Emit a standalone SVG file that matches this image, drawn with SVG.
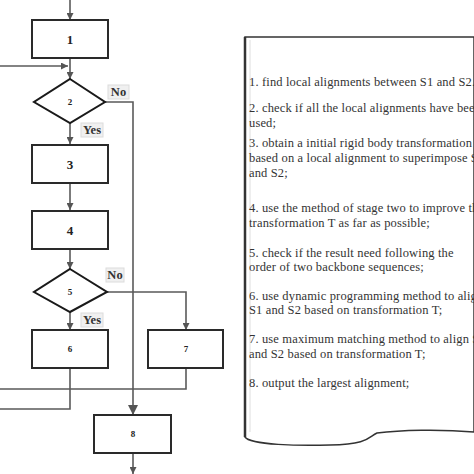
<svg xmlns="http://www.w3.org/2000/svg" width="474" height="474" viewBox="0 0 474 474">
<style>
.box{fill:#fff;stroke:#2a2a2a;stroke-width:2}
.dia{fill:#fff;stroke:#1a1a1a;stroke-width:2}
.c{fill:none;stroke:#5a5a5a;stroke-width:1.6}
.lbl{font-family:"Liberation Serif",serif;font-weight:bold;fill:#222;text-anchor:middle}
.big{font-size:13px}
.small{font-size:9px}
.tag{fill:#f0f0f0;stroke:#dcdcdc;stroke-width:1}
.tagt{font-family:"Liberation Serif",serif;font-weight:bold;font-size:12.5px;fill:#333;text-anchor:middle}
.doc{font-family:"Liberation Serif",serif;font-size:12.5px;fill:#333;letter-spacing:0.15px}
</style>
<defs>
<marker id="ahb" viewBox="0 0 10 10" refX="10" refY="5" markerWidth="10" markerHeight="10" orient="auto" markerUnits="userSpaceOnUse">
<path d="M0,0 L10,5 L0,10 z" fill="#555"/>
</marker>
<marker id="ah7" viewBox="0 0 10 10" refX="10" refY="5" markerWidth="7" markerHeight="7" orient="auto" markerUnits="userSpaceOnUse">
<path d="M0,0 L10,5 L0,10 z" fill="#555"/>
</marker>
</defs>
<rect width="474" height="474" fill="#fff"/>

<g id="connectors">
<path class="c" d="M70,0 V20" marker-end="url(#ah7)"/>
<path class="c" d="M70,58 V79" marker-end="url(#ah7)"/>
<path class="c" d="M0,66 H68" marker-end="url(#ah7)"/>
<path class="c" d="M70,123 V144" marker-end="url(#ah7)"/>
<path class="c" d="M70,183 V210" marker-end="url(#ah7)"/>
<path class="c" d="M70,249 V269" marker-end="url(#ah7)"/>
<path class="c" d="M70,312 V330" marker-end="url(#ah7)"/>
<path class="c" d="M105,102 H133 V415" marker-end="url(#ahb)"/>
<path class="c" d="M107,292 H186 V330" marker-end="url(#ah7)"/>
<path class="c" d="M186,368 V389 H0"/>
<path class="c" d="M70,368 V409 H0"/>
<path class="c" d="M133,453 V474" marker-end="url(#ah7)"/>
</g>

<g id="n1"><rect class="box" x="32" y="20" width="76" height="38"/><text class="lbl big" x="70" y="44">1</text></g>
<g id="n2"><polygon class="dia" points="70,79 105,102 70,123 34,102"/><text class="lbl small" x="70" y="105">2</text></g>
<g id="n3"><rect class="box" x="32" y="145" width="76" height="38"/><text class="lbl big" x="70" y="169">3</text></g>
<g id="n4"><rect class="box" x="32" y="211" width="76" height="38"/><text class="lbl big" x="70" y="235">4</text></g>
<g id="n5"><polygon class="dia" points="70,269 107,292 70,312 34,292"/><text class="lbl small" x="70" y="295">5</text></g>
<g id="n6"><rect class="box" x="32" y="330" width="76" height="38"/><text class="lbl small" x="70" y="352">6</text></g>
<g id="n7"><rect class="box" x="148" y="330" width="75" height="38"/><text class="lbl small" x="186" y="352">7</text></g>
<g id="n8"><rect class="box" x="94" y="415" width="77" height="38"/><text class="lbl small" x="133" y="437">8</text></g>

<g id="labels">
<rect class="tag" x="108" y="85" width="21" height="14"/><text class="tagt" x="118.5" y="96">No</text>
<rect class="tag" x="81" y="123" width="22" height="14"/><text class="tagt" x="92" y="134">Yes</text>
<rect class="tag" x="106" y="268" width="18" height="14"/><text class="tagt" x="115" y="279">No</text>
<rect class="tag" x="81" y="313" width="22" height="14"/><text class="tagt" x="92" y="324">Yes</text>
</g>

<g id="document">
<path d="M245,37 H474 V432 C440,429 400,430 377,433 C368,437 370,444 330,445 C300,446 250,445 245,437 Z" fill="#fff" stroke="#333" stroke-width="1.5"/>
<path d="M245,37 V437" stroke="#333" stroke-width="2.5"/>
<path d="M250,40 V432" stroke="#ddd" stroke-width="1"/>
<text class="doc" x="249" y="86">1. find local alignments between S1 and S2.</text>
<text class="doc" x="249" y="112">2. check if all the local alignments have been</text>
<text class="doc" x="249" y="127">used;</text>
<text class="doc" x="249" y="147">3. obtain a initial rigid body transformation T</text>
<text class="doc" x="249" y="162">based on a local alignment to superimpose S1</text>
<text class="doc" x="249" y="177">and S2;</text>
<text class="doc" x="249" y="212">4. use the method of stage two to improve the</text>
<text class="doc" x="249" y="227">transformation T as far as possible;</text>
<text class="doc" x="249" y="257">5. check if the result need following the</text>
<text class="doc" x="249" y="271">order of two backbone sequences;</text>
<text class="doc" x="249" y="300">6. use dynamic programming method to align</text>
<text class="doc" x="249" y="314">S1 and S2 based on transformation T;</text>
<text class="doc" x="249" y="343">7. use maximum matching method to align S1</text>
<text class="doc" x="249" y="358">and S2 based on transformation T;</text>
<text class="doc" x="249" y="387">8. output the largest alignment;</text>
</g>
</svg>
